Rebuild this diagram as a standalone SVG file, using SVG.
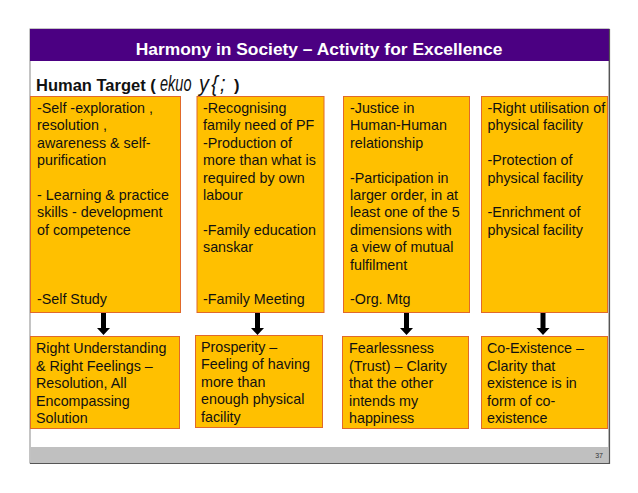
<svg xmlns="http://www.w3.org/2000/svg" width="638" height="493" viewBox="0 0 638 493">
<style>
.t{font-family:"Liberation Sans",Arial,sans-serif;font-size:14.3px;fill:#111}
.box{fill:#FFC000;stroke:#E0692A;stroke-width:1}
.title{font-family:"Liberation Sans",Arial,sans-serif;font-size:17.4px;font-weight:bold;fill:#fff}
.h{font-family:"Liberation Sans",Arial,sans-serif;font-size:16.5px;font-weight:bold;fill:#111}
.dv{font-family:"Liberation Sans",Arial,sans-serif;font-size:22px;font-style:italic;fill:#111}
</style>
<defs>
<path id="arr" d="M-2.5,0 H2.5 V15 H6.5 L0,22 L-6.5,15 H-2.5 Z" fill="#000"/>
</defs>
<rect width="638" height="493" fill="#fff"/>
<g id="frame">
<rect x="30" y="29" width="579" height="434" fill="#fff" stroke="#8a8a8a" stroke-width="1"/>
<rect x="30" y="29" width="579" height="32" fill="#4B0082"/>
<rect x="30.5" y="447" width="578" height="16" fill="#C0C0C0"/>
<path d="M609.5,29 V463.5 H30" fill="none" stroke="#555" stroke-width="1.2"/>
<text class="title" x="319" y="54.5" text-anchor="middle">Harmony in Society – Activity for Excellence</text>
<text class="h" x="36" y="91">Human Target (</text>
<text class="dv" transform="translate(160,90.5) scale(0.66,1)">ekuo</text>
<text class="dv" transform="translate(199,90.5) scale(0.9,1)" letter-spacing="2.5">y{;</text>
<text class="h" x="234" y="91">)</text>
<text x="603" y="458" text-anchor="end" font-family="Liberation Sans,Arial,sans-serif" font-size="7" fill="#333">37</text>
</g>
<g id="top1">
<rect class="box" x="30.5" y="96.5" width="150" height="216"/>
<text class="t" x="37"><tspan x="37" y="113">-Self -exploration ,</tspan><tspan x="37" y="130.4">resolution ,</tspan><tspan x="37" y="147.8">awareness &amp; self-</tspan><tspan x="37" y="165.2">purification</tspan><tspan x="37" y="200">- Learning &amp; practice</tspan><tspan x="37" y="217.4">skills - development</tspan><tspan x="37" y="234.8">of competence</tspan><tspan x="37" y="304.4">-Self Study</tspan></text>
</g>
<g id="top2">
<rect class="box" x="197" y="96.5" width="127" height="216"/>
<text class="t"><tspan x="203" y="113">-Recognising</tspan><tspan x="203" y="130.4">family need of PF</tspan><tspan x="203" y="147.8">-Production of</tspan><tspan x="203" y="165.2">more than what is</tspan><tspan x="203" y="182.6">required by own</tspan><tspan x="203" y="200">labour</tspan><tspan x="203" y="234.8">-Family education</tspan><tspan x="203" y="252.2">sanskar</tspan><tspan x="203" y="304.4">-Family Meeting</tspan></text>
</g>
<g id="top3">
<rect class="box" x="343.5" y="96.5" width="126" height="216"/>
<text class="t"><tspan x="350" y="113">-Justice in</tspan><tspan x="350" y="130.4">Human-Human</tspan><tspan x="350" y="147.8">relationship</tspan><tspan x="350" y="182.6">-Participation in</tspan><tspan x="350" y="200">larger order, in at</tspan><tspan x="350" y="217.4">least one of the 5</tspan><tspan x="350" y="234.8">dimensions with</tspan><tspan x="350" y="252.2">a view of mutual</tspan><tspan x="350" y="269.6">fulfilment</tspan><tspan x="350" y="304.4">-Org. Mtg</tspan></text>
</g>
<g id="top4">
<rect class="box" x="481.5" y="96.5" width="126" height="216"/>
<text class="t"><tspan x="487.5" y="113">-Right utilisation of</tspan><tspan x="487.5" y="130.4">physical facility</tspan><tspan x="487.5" y="165.2">-Protection of</tspan><tspan x="487.5" y="182.6">physical facility</tspan><tspan x="487.5" y="217.4">-Enrichment of</tspan><tspan x="487.5" y="234.8">physical facility</tspan></text>
</g>
<g id="connectors">
<use href="#arr" x="103.5" y="313"/>
<use href="#arr" x="257.5" y="313"/>
<use href="#arr" x="406.5" y="313"/>
<use href="#arr" x="543" y="313"/>
</g>
<g id="bot1">
<rect class="box" x="30.5" y="336.5" width="149" height="92"/>
<text class="t"><tspan x="36" y="353">Right Understanding</tspan><tspan x="36" y="370.5">&amp; Right Feelings –</tspan><tspan x="36" y="388">Resolution, All</tspan><tspan x="36" y="405.5">Encompassing</tspan><tspan x="36" y="423">Solution</tspan></text>
</g>
<g id="bot2">
<rect class="box" x="195.5" y="335.5" width="127" height="92"/>
<text class="t"><tspan x="201" y="351.5">Prosperity –</tspan><tspan x="201" y="369">Feeling of having</tspan><tspan x="201" y="386.5">more than</tspan><tspan x="201" y="404">enough physical</tspan><tspan x="201" y="421.5">facility</tspan></text>
</g>
<g id="bot3">
<rect class="box" x="342.5" y="336.5" width="126" height="92"/>
<text class="t"><tspan x="349" y="353">Fearlessness</tspan><tspan x="349" y="370.5">(Trust) – Clarity</tspan><tspan x="349" y="388">that the other</tspan><tspan x="349" y="405.5">intends my</tspan><tspan x="349" y="423">happiness</tspan></text>
</g>
<g id="bot4">
<rect class="box" x="481.5" y="336.5" width="126" height="92"/>
<text class="t"><tspan x="487" y="353">Co-Existence –</tspan><tspan x="487" y="370.5">Clarity that</tspan><tspan x="487" y="388">existence is in</tspan><tspan x="487" y="405.5">form of co-</tspan><tspan x="487" y="423">existence</tspan></text>
</g>
</svg>
